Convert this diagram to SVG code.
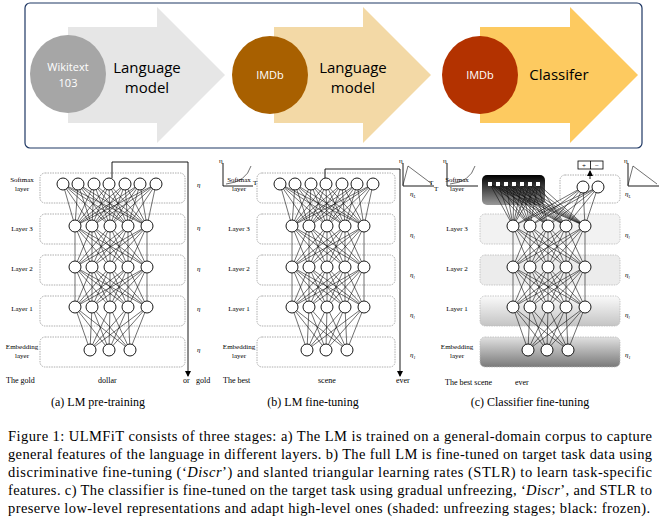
<svg xmlns="http://www.w3.org/2000/svg" width="663" height="523" viewBox="0 0 663 523">
<defs>
<style>
.bx{fill:none;stroke:#999;stroke-width:0.8;stroke-dasharray:1.5 1}
.nd{fill:#fff;stroke:#000;stroke-width:0.9}
.ln{fill:none;stroke:#111;stroke-width:0.6}
.lb{font-family:'Liberation Serif','Times New Roman',Tinos,serif;font-size:7px;fill:#000}
.wd{font-family:'Liberation Serif','Times New Roman',Tinos,serif;font-size:8px;fill:#000}
.cap{font-family:'Liberation Serif','Times New Roman',Tinos,serif;font-size:12px;fill:#000;text-anchor:middle}
.fig{font-family:'Liberation Serif','Times New Roman',Tinos,serif;font-size:14.5px;fill:#000}
.bt{font-family:"Open Sans","Liberation Sans",sans-serif;font-size:15px;fill:#000;text-anchor:middle}
.ct{font-family:"Open Sans","Liberation Sans",sans-serif;font-size:11px;fill:#fff;text-anchor:middle}
.ar{fill:none;stroke:#000;stroke-width:0.9}
</style>
<marker id="ah" markerWidth="6" markerHeight="6" refX="5" refY="3" orient="auto" markerUnits="userSpaceOnUse"><path d="M0 0L6 3L0 6z" fill="#000"/></marker>
<linearGradient id="g1" x1="0" y1="0" x2="0" y2="1"><stop offset="0" stop-color="#fafafa"/><stop offset="1" stop-color="#c4c4c4"/></linearGradient>
<linearGradient id="g2" x1="0" y1="0" x2="0" y2="1"><stop offset="0" stop-color="#e0e0e0"/><stop offset="1" stop-color="#7a7a7a"/></linearGradient>
<linearGradient id="g3" x1="0" y1="0" x2="0" y2="1"><stop offset="0" stop-color="#000"/><stop offset="1" stop-color="#999"/></linearGradient>
<g id="lower">
<path class="ln" d="M75 226L75 267M75 226L92 267M75 226L110 267M75 226L128 267M75 226L147 267M92 226L75 267M92 226L92 267M92 226L110 267M92 226L128 267M92 226L147 267M110 226L75 267M110 226L92 267M110 226L110 267M110 226L128 267M110 226L147 267M128 226L75 267M128 226L92 267M128 226L110 267M128 226L128 267M128 226L147 267M147 226L75 267M147 226L92 267M147 226L110 267M147 226L128 267M147 226L147 267"/>
<path class="ln" d="M75 267L75 307M75 267L92 307M75 267L110 307M75 267L128 307M75 267L147 307M92 267L75 307M92 267L92 307M92 267L110 307M92 267L128 307M92 267L147 307M110 267L75 307M110 267L92 307M110 267L110 307M110 267L128 307M110 267L147 307M128 267L75 307M128 267L92 307M128 267L110 307M128 267L128 307M128 267L147 307M147 267L75 307M147 267L92 307M147 267L110 307M147 267L128 307M147 267L147 307"/>
<path class="ln" d="M75 307L90 350M75 307L109 350M75 307L130 350M92 307L90 350M92 307L109 350M92 307L130 350M110 307L90 350M110 307L109 350M110 307L130 350M128 307L90 350M128 307L109 350M128 307L130 350M147 307L90 350M147 307L109 350M147 307L130 350"/>
<circle class="nd" cx="75" cy="226" r="6"/><circle class="nd" cx="92" cy="226" r="6"/><circle class="nd" cx="110" cy="226" r="6"/><circle class="nd" cx="128" cy="226" r="6"/><circle class="nd" cx="147" cy="226" r="6"/>
<circle class="nd" cx="75" cy="267" r="6"/><circle class="nd" cx="92" cy="267" r="6"/><circle class="nd" cx="110" cy="267" r="6"/><circle class="nd" cx="128" cy="267" r="6"/><circle class="nd" cx="147" cy="267" r="6"/>
<circle class="nd" cx="75" cy="307" r="6"/><circle class="nd" cx="92" cy="307" r="6"/><circle class="nd" cx="110" cy="307" r="6"/><circle class="nd" cx="128" cy="307" r="6"/><circle class="nd" cx="147" cy="307" r="6"/>
<circle class="nd" cx="90" cy="350" r="6"/><circle class="nd" cx="109" cy="350" r="6"/><circle class="nd" cx="130" cy="350" r="6"/>
</g>
<path id="softln" class="ln" d="M63 184L75 226M63 184L92 226M63 184L110 226M63 184L128 226M63 184L147 226M78 184L75 226M78 184L92 226M78 184L110 226M78 184L128 226M78 184L147 226M94 184L75 226M94 184L92 226M94 184L110 226M94 184L128 226M94 184L147 226M109 184L75 226M109 184L92 226M109 184L110 226M109 184L128 226M109 184L147 226M125 184L75 226M125 184L92 226M125 184L110 226M125 184L128 226M125 184L147 226M140 184L75 226M140 184L92 226M140 184L110 226M140 184L128 226M140 184L147 226M156 184L75 226M156 184L92 226M156 184L110 226M156 184L128 226M156 184L147 226"/>
<g id="softnd">
<circle class="nd" cx="63" cy="184" r="6"/><circle class="nd" cx="78" cy="184" r="6"/><circle class="nd" cx="94" cy="184" r="6"/><circle class="nd" cx="109" cy="184" r="6"/><circle class="nd" cx="125" cy="184" r="6"/><circle class="nd" cx="140" cy="184" r="6"/><circle class="nd" cx="156" cy="184" r="6"/>
</g>
<g id="labels">
<text class="lb" x="22" y="182" text-anchor="middle">Softmax</text><text class="lb" x="22" y="191" text-anchor="middle">layer</text>
<text class="lb" x="22" y="231" text-anchor="middle">Layer 3</text>
<text class="lb" x="22" y="271" text-anchor="middle">Layer 2</text>
<text class="lb" x="22" y="311" text-anchor="middle">Layer 1</text>
<text class="lb" x="22" y="349" text-anchor="middle">Embedding</text><text class="lb" x="22" y="358" text-anchor="middle">layer</text>
</g>
</defs>

<g id="banner">
<rect x="25" y="3" width="617" height="145" rx="5" fill="#fff" stroke="#1f3864" stroke-width="1.2"/>
<path d="M68 27H157V7L225 75L157 143V123H68z" fill="#e6e6e6"/>
<path d="M274 27H363V7L431 75L363 143V123H274z" fill="#f3d9a6"/>
<path d="M480 27H570V7L638 75L570 143V123H480z" fill="#fdca60"/>
</g>
<g id="n-wiki"><ellipse cx="68" cy="74" rx="38" ry="39" fill="#a6a6a6"/><text class="ct" x="68" y="71">Wikitext</text><text class="ct" x="68" y="87">103</text></g>
<g id="t-lm1"><text class="bt" x="147" y="73">Language</text><text class="bt" x="147" y="93">model</text></g>
<g id="n-imdb1"><ellipse cx="270" cy="75" rx="38" ry="39" fill="#a86000"/><text class="ct" x="270" y="79">IMDb</text></g>
<g id="t-lm2"><text class="bt" x="353" y="73">Language</text><text class="bt" x="353" y="93">model</text></g>
<g id="n-imdb2"><ellipse cx="480" cy="75" rx="38" ry="39" fill="#b33200"/><text class="ct" x="480" y="79">IMDb</text></g>
<g id="t-cls"><text class="bt" x="559" y="80">Classifer</text></g>

<g id="panel-a">
<rect class="bx" x="40" y="173" width="145" height="30" rx="5"/>
<rect class="bx" x="40" y="214" width="145" height="30" rx="5"/>
<rect class="bx" x="40" y="255" width="145" height="30" rx="5"/>
<rect class="bx" x="40" y="296" width="145" height="30" rx="5"/>
<rect class="bx" x="40" y="337" width="145" height="30" rx="5"/>
<path class="ar" d="M112 178V162H188V376" marker-end="url(#ah)"/>
<use href="#softln"/><use href="#lower"/><use href="#softnd"/><use href="#labels"/>
<g class="lb" font-style="italic"><text x="197" y="187">η</text><text x="197" y="230">η</text><text x="197" y="271">η</text><text x="197" y="311">η</text><text x="197" y="352">η</text></g>
<text class="wd" x="6" y="383">The gold</text><text class="wd" x="98" y="383">dollar</text><text class="wd" x="183" y="383">or</text><text class="wd" x="196" y="383">gold</text>
<text class="cap" x="98" y="406">(a) LM pre-training</text>
</g>

<g id="panel-b">
<g transform="translate(217 0)">
<rect class="bx" x="40" y="173" width="138" height="30" rx="5"/>
<rect class="bx" x="40" y="214" width="138" height="30" rx="5"/>
<rect class="bx" x="40" y="255" width="138" height="30" rx="5"/>
<rect class="bx" x="40" y="296" width="138" height="30" rx="5"/>
<rect class="bx" x="40" y="337" width="138" height="30" rx="5"/>
<path class="ar" d="M108 178V169H183V376" marker-end="url(#ah)"/>
<use href="#softln"/><use href="#lower"/><use href="#softnd"/><use href="#labels"/>
</g>
<path class="ar" d="M223 186V163M223 186H253" stroke-width="0.7"/><path class="ln" d="M226 184Q246 182 251 166" stroke-width="0.7"/>
<text class="lb" x="219" y="163">η</text><text class="lb" x="253" y="185">T</text>
<path class="ar" d="M403 186V163M403 186H434" stroke-width="0.7"/><path class="ln" d="M403 185L408 166L432 184" stroke-width="0.7"/>
<text class="lb" x="399" y="163">η</text><text class="lb" x="434" y="191">T</text>
<g class="lb" font-style="italic"><text x="410" y="196">η<tspan font-size="4" dy="2">L</tspan></text><text x="410" y="237">η<tspan font-size="4" dy="2">l</tspan></text><text x="410" y="277">η<tspan font-size="4" dy="2">l</tspan></text><text x="410" y="317">η<tspan font-size="4" dy="2">l</tspan></text><text x="410" y="357">η<tspan font-size="4" dy="2">1</tspan></text></g>
<text class="wd" x="223" y="383">The best</text><text class="wd" x="318" y="383">scene</text><text class="wd" x="396" y="383">ever</text>
<text class="cap" x="313" y="406">(b) LM fine-tuning</text>
</g>

<g id="panel-c">
<rect x="480" y="214" width="140" height="30" rx="5" fill="#f2f2f2" stroke="#bbb" stroke-width="0.8" stroke-dasharray="1.5 1"/>
<rect x="480" y="255" width="140" height="30" rx="5" fill="#ececec" stroke="#bbb" stroke-width="0.8" stroke-dasharray="1.5 1"/>
<rect x="480" y="296" width="140" height="30" rx="5" fill="url(#g1)" stroke="#bbb" stroke-width="0.8" stroke-dasharray="1.5 1"/>
<rect x="480" y="337" width="140" height="30" rx="5" fill="url(#g2)" stroke="#bbb" stroke-width="0.8" stroke-dasharray="1.5 1"/>
<rect class="bx" x="560" y="175" width="60" height="28" rx="5"/>
<rect x="482" y="175" width="63" height="30" rx="5" fill="url(#g3)"/>
<path class="ln" d="M490 184L513 226M490 184L530 226M490 184L548 226M490 184L566 226M490 184L585 226M498 184L513 226M498 184L530 226M498 184L548 226M498 184L566 226M498 184L585 226M506 184L513 226M506 184L530 226M506 184L548 226M506 184L566 226M506 184L585 226M514 184L513 226M514 184L530 226M514 184L548 226M514 184L566 226M514 184L585 226M522 184L513 226M522 184L530 226M522 184L548 226M522 184L566 226M522 184L585 226M530 184L513 226M530 184L530 226M530 184L548 226M530 184L566 226M530 184L585 226M538 184L513 226M538 184L530 226M538 184L548 226M538 184L566 226M538 184L585 226M583 187L513 226M583 187L530 226M583 187L548 226M583 187L566 226M583 187L585 226M598 187L513 226M598 187L530 226M598 187L548 226M598 187L566 226M598 187L585 226"/>
<g fill="#fff"><rect x="488" y="182" width="4" height="4"/><rect x="496" y="182" width="4" height="4"/><rect x="504" y="182" width="4" height="4"/><rect x="512" y="182" width="4" height="4"/><rect x="520" y="182" width="4" height="4"/><rect x="528" y="182" width="4" height="4"/><rect x="536" y="182" width="4" height="4"/></g>
<circle class="nd" cx="583" cy="187" r="6"/><circle class="nd" cx="598" cy="187" r="6"/>
<path class="ar" d="M590 179V171" marker-end="url(#ah)"/>
<rect x="578" y="161" width="25" height="8" fill="#fff" stroke="#000" stroke-width="0.8"/><path d="M590.5 161V169" stroke="#000" stroke-width="0.8"/>
<text class="lb" x="584" y="168" text-anchor="middle">+</text><text class="lb" x="597" y="168" text-anchor="middle">−</text>
<g transform="translate(438 0)"><use href="#lower"/></g>
<g transform="translate(435 0)"><use href="#labels"/></g>
<path class="ar" d="M447 186V163M447 186H478" stroke-width="0.7"/><path class="ln" d="M450 184Q470 182 475 166" stroke-width="0.7"/>
<text class="lb" x="443" y="163">η</text><text class="lb" x="429" y="185">T</text>
<path class="ar" d="M628 186V163M628 186H659" stroke-width="0.7"/><path class="ln" d="M628 185L633 166L657 184" stroke-width="0.7"/>
<text class="lb" x="624" y="163">η</text>
<g class="lb" font-style="italic"><text x="625" y="196">η<tspan font-size="4" dy="2">L</tspan></text><text x="625" y="237">η<tspan font-size="4" dy="2">l</tspan></text><text x="625" y="277">η<tspan font-size="4" dy="2">l</tspan></text><text x="625" y="317">η<tspan font-size="4" dy="2">l</tspan></text><text x="625" y="357">η<tspan font-size="4" dy="2">1</tspan></text></g>
<text class="wd" x="445" y="385">The best scene</text><text class="wd" x="515" y="385">ever</text>
<text class="cap" x="530" y="406">(c) Classifier fine-tuning</text>
</g>

<g id="caption">
<text class="fig" x="8" y="441" textLength="644" lengthAdjust="spacing">Figure 1: ULMFiT consists of three stages: a) The LM is trained on a general-domain corpus to capture</text>
<text class="fig" x="8" y="459" textLength="644" lengthAdjust="spacing">general features of the language in different layers. b) The full LM is fine-tuned on target task data using</text>
<text class="fig" x="8" y="477" textLength="644" lengthAdjust="spacing">discriminative fine-tuning (‘<tspan font-style="italic">Discr</tspan>’) and slanted triangular learning rates (STLR) to learn task-specific</text>
<text class="fig" x="8" y="495" textLength="644" lengthAdjust="spacing">features. c) The classifier is fine-tuned on the target task using gradual unfreezing, ‘<tspan font-style="italic">Discr</tspan>’, and STLR to</text>
<text class="fig" x="8" y="513" textLength="642" lengthAdjust="spacing">preserve low-level representations and adapt high-level ones (shaded: unfreezing stages; black: frozen).</text>
</g>
</svg>
